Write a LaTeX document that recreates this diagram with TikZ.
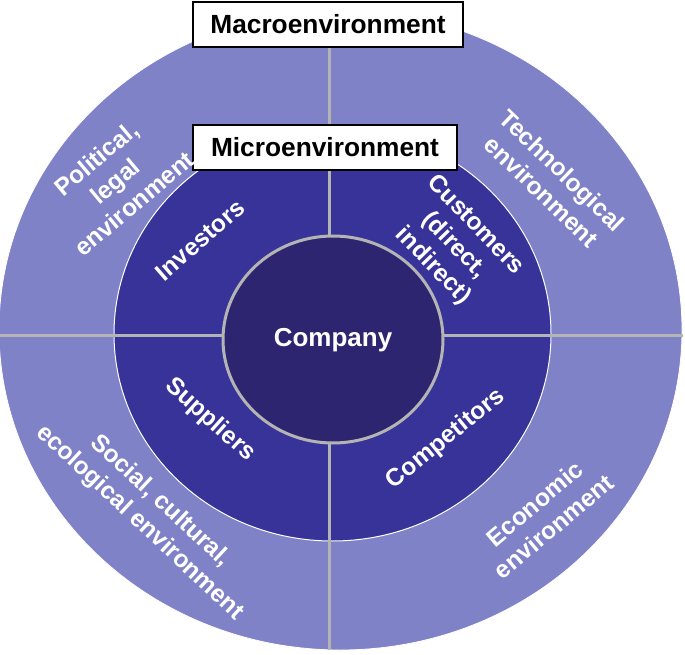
\documentclass[tikz,border=0pt]{standalone}
\usepackage{fontspec}
\setmainfont{Liberation Sans}
\usetikzlibrary{shapes.geometric}
\definecolor{outerc}{RGB}{128,130,200}
\definecolor{midc}{RGB}{56,51,152}
\definecolor{corec}{RGB}{45,37,112}
\definecolor{divc}{RGB}{180,180,180}
\tikzset{
  ring/.style={ellipse, inner sep=0pt},
  divider/.style={draw=divc, line width=3pt},
  boxlabel/.style={draw=black, line width=1.2pt, fill=white, inner sep=0pt,
     minimum height=45pt, font=\fontsize{26.3}{30}\selectfont\bfseries, text=black},
  wlabel/.style={text=white, align=center, inner sep=0pt,
     font=\fontsize{24.5}{29.5}\selectfont\bfseries},
}
\begin{document}
\begin{tikzpicture}[x=1pt,y=-1pt]
\useasboundingbox (0,0) rectangle (685,655);
% rings
\node[ring, fill=outerc, draw=white, line width=0.8pt, minimum width=683pt, minimum height=640pt] (outer) at (340.5,330) {};
\node[ring, fill=midc, draw=white, line width=1pt, minimum width=437pt, minimum height=414pt] (mid) at (332.5,334) {};
% dividers
\coordinate (vtop) at (329,12);
\coordinate (vbot) at (329,650);
\coordinate (hleft) at (0,335);
\coordinate (hright) at (683,335);
\draw[divider] (vtop) -- (vbot);
\draw[divider] (hleft) -- (hright);
% company
\node[ring, fill=corec, draw=divc, line width=3pt, minimum width=220pt, minimum height=207pt] (core) at (333,339.5) {};
\node[text=white, inner sep=0pt, font=\fontsize{26}{30}\selectfont\bfseries] (company) at (333,340) {Company};
% boxes
\node[boxlabel, minimum width=270pt] (macro) at (328,24.5) {Macroenvironment};
\node[boxlabel, minimum width=264pt] (micro) at (325,147.5) {Microenvironment};
% micro labels
\node[wlabel, rotate=41] (investors) at (200,240) {Investors};
\node[wlabel, rotate=-46] (customers) at (454,246) {Customers\\(direct,\\indirect)};
\node[wlabel, rotate=-42] (suppliers) at (210,420) {Suppliers};
\node[wlabel, rotate=39] (competitors) at (446,439) {Competitors};
% macro labels
\node[wlabel, rotate=40] (political) at (115,181) {Political,\\legal\\environment};
\node[wlabel, rotate=-44] (techno) at (552,181) {Technological\\environment};
\node[wlabel, rotate=-43] (social) at (150,512) {Social, cultural,\\ecological environment};
\node[wlabel, rotate=40] (economic) at (544,515) {Economic\\environment};
\end{tikzpicture}
\end{document}
